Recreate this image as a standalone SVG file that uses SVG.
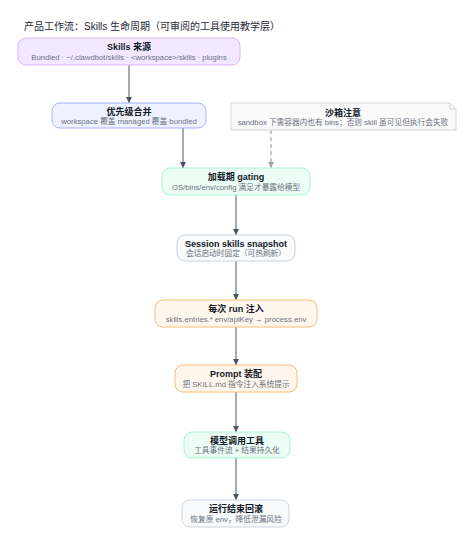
<svg xmlns="http://www.w3.org/2000/svg" width="474" height="543" viewBox="0 0 474 543">
<defs>
<style>
text{font-family:"Liberation Sans","Noto Sans CJK SC",sans-serif;text-anchor:middle}
.title{font-size:10px;fill:#1f2937;text-anchor:start}
.t{font-size:9px;font-weight:bold;fill:#111827}
.s{font-size:7.7px;fill:#6b7280}
.edge{stroke:#6b7280;stroke-width:1.2;fill:none}
.dash{stroke:#a1a1aa;stroke-width:1.2;fill:none;stroke-dasharray:4 3}
.purple{fill:#f3e8ff;stroke:#d8b4fe}
.blue{fill:#eef2ff;stroke:#a5b4fc}
.green{fill:#ecfdf5;stroke:#a7f3d0}
.slate{fill:#f8fafc;stroke:#cbd5e1}
.orange{fill:#fff7ed;stroke:#fdba74}
.note{fill:#fafafa;stroke:#d4d4d8}
</style>
<marker id="ah" viewBox="0 0 10 10" refX="10" refY="5" markerWidth="6" markerHeight="6" orient="auto" markerUnits="userSpaceOnUse"><path d="M0,0 L10,5 L0,10 z" fill="#475569"/></marker>
<marker id="ahl" viewBox="0 0 10 10" refX="10" refY="5" markerWidth="6" markerHeight="6" orient="auto" markerUnits="userSpaceOnUse"><path d="M0,0 L10,5 L0,10 z" fill="#a1a1aa"/></marker>
</defs>
<rect width="474" height="543" fill="#ffffff"/>
<text class="title" x="24" y="30">产品工作流：Skills 生命周期（可审阅的工具使用教学层）</text>
<g id="connectors">
<line class="edge" x1="129" y1="65" x2="129" y2="103" marker-end="url(#ah)"/>
<line class="edge" x1="183" y1="128" x2="183" y2="168" marker-end="url(#ah)"/>
<line class="dash" x1="271" y1="130" x2="271" y2="168" marker-end="url(#ahl)"/>
<line class="edge" x1="236" y1="195" x2="236" y2="235" marker-end="url(#ah)"/>
<line class="edge" x1="236" y1="261" x2="236" y2="300" marker-end="url(#ah)"/>
<line class="edge" x1="236" y1="327" x2="236" y2="365" marker-end="url(#ah)"/>
<line class="edge" x1="236" y1="392" x2="236" y2="432" marker-end="url(#ah)"/>
<line class="edge" x1="236" y1="458" x2="236" y2="500" marker-end="url(#ah)"/>
</g>
<g id="n1"><rect class="purple" x="18" y="38" width="222" height="27" rx="8"/><text class="t" x="129" y="50">Skills 来源</text><text class="s" x="129" y="60">Bundled · ~/.clawdbot/skills · &lt;workspace&gt;/skills · plugins</text></g>
<g id="n2"><rect class="blue" x="52" y="103" width="154" height="25" rx="8"/><text class="t" x="129" y="115">优先级合并</text><text class="s" x="129" y="124">workspace 覆盖 managed 覆盖 bundled</text></g>
<g id="note"><path class="note" d="M231,103 H450 L456,109 V130 H231 Z"/><path d="M450,103 V109 H456" fill="none" stroke="#d4d4d8"/><text class="t" x="343" y="116">沙箱注意</text><text class="s" x="343" y="125">sandbox 下需容器内也有 bins；否则 skill 虽可见但执行会失败</text></g>
<g id="n3"><rect class="green" x="162" y="168" width="148" height="27" rx="8"/><text class="t" x="236" y="180">加载期 gating</text><text class="s" x="236" y="190">OS/bins/env/config 满足才暴露给模型</text></g>
<g id="n4"><rect class="slate" x="177" y="235" width="118" height="26" rx="8"/><text class="t" x="236" y="247">Session skills snapshot</text><text class="s" x="236" y="256">会话启动时固定（可热刷新）</text></g>
<g id="n5"><rect class="orange" x="155" y="300" width="162" height="27" rx="8"/><text class="t" x="236" y="312">每次 run 注入</text><text class="s" x="236" y="322">skills.entries.* env/apiKey → process.env</text></g>
<g id="n6"><rect class="orange" x="175" y="365" width="122" height="27" rx="8"/><text class="t" x="236" y="377">Prompt 装配</text><text class="s" x="236" y="387">把 SKILL.md 指令注入系统提示</text></g>
<g id="n7"><rect class="green" x="184" y="432" width="106" height="26" rx="8"/><text class="t" x="237" y="444">模型调用工具</text><text class="s" x="237" y="453">工具事件流 + 结果持久化</text></g>
<g id="n8"><rect class="slate" x="182" y="500" width="107" height="27" rx="8"/><text class="t" x="236" y="512">运行结束回滚</text><text class="s" x="236" y="522">恢复原 env，降低泄漏风险</text></g>
</svg>
